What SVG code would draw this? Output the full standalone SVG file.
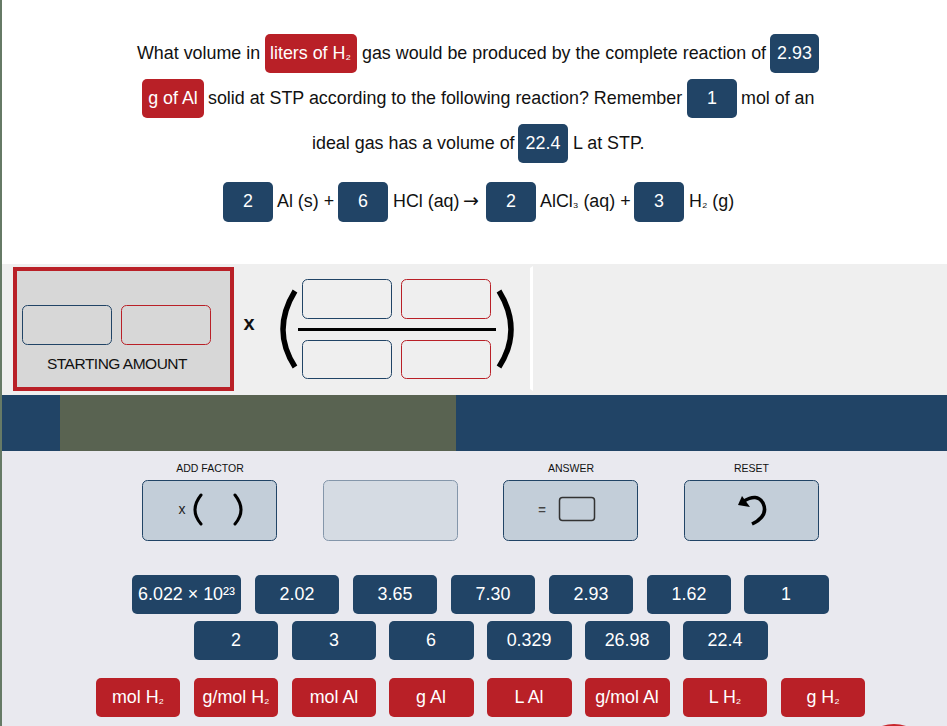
<svg xmlns="http://www.w3.org/2000/svg" width="947" height="726" viewBox="0 0 947 726">
<style>
text{font-family:"Liberation Sans",Arial,sans-serif;font-size:17.87px;fill:#111;white-space:pre}
.c{text-anchor:middle}
.w{fill:#fff}
.b{fill:#214466}
.r{fill:#b92027}
.sb{fill:none;stroke:#214466;stroke-width:1}
.sr{fill:none;stroke:#b92027;stroke-width:1}
.tool{fill:#c3ced9;stroke:#214466;stroke-width:1}
.lab{font-size:10.5px}
.par{fill:none;stroke:#000}
.s{font-size:14px}
</style>
<rect width="947" height="726" fill="#fff"/>
<rect x="0" y="264" width="947" height="131" fill="#efefef"/>
<rect x="0" y="395" width="947" height="56" fill="#214466"/>
<rect x="60" y="395" width="396" height="56" fill="#596351"/>
<rect x="0" y="451" width="947" height="275" fill="#e9e9ef"/>
<rect x="0" y="0" width="2" height="726" fill="#667a66"/>
<path d="M530 268l3-2v125l-3-2z" fill="#fff"/>

<g id="question">
<text x="137" y="59">What volume in</text>
<rect class="r" x="265" y="34" width="92" height="39" rx="5"/>
<text class="w" x="270" y="59">liters of H<tspan class="s">₂</tspan></text>
<text x="362" y="59">gas would be produced by the complete reaction of</text>
<rect class="b" x="770" y="34" width="49" height="39" rx="5"/>
<text class="w c" x="794.500" y="59">2.93</text>
<rect class="r" x="142" y="79" width="62" height="39" rx="5"/>
<text class="w c" x="173" y="104">g of Al</text>
<text x="208" y="104">solid at STP according to the following reaction? Remember</text>
<rect class="b" x="687" y="79" width="50" height="39" rx="5"/>
<text class="w c" x="712" y="104">1</text>
<text x="741" y="104">mol of an</text>
<text x="312" y="149">ideal gas has a volume of</text>
<rect class="b" x="518" y="124" width="50" height="39" rx="5"/>
<text class="w c" x="543" y="149">22.4</text>
<text x="573" y="149">L at STP.</text>
</g>

<g id="equation">
<rect class="b" x="223" y="182" width="50" height="40" rx="5"/>
<text class="w c" x="248" y="207">2</text>
<text x="277" y="207">Al (s) +</text>
<rect class="b" x="338" y="182" width="50" height="40" rx="5"/>
<text class="w c" x="363" y="207">6</text>
<text x="393" y="207">HCl (aq) <tspan x="463" style="font-size:19px;font-family:'DejaVu Sans',sans-serif">→</tspan></text>
<rect class="b" x="486" y="182" width="50" height="40" rx="5"/>
<text class="w c" x="511" y="207">2</text>
<text x="540" y="207">AlCl<tspan class="s">₃</tspan> (aq) +</text>
<rect class="b" x="634" y="182" width="50" height="40" rx="5"/>
<text class="w c" x="659" y="207">3</text>
<text x="689" y="207">H<tspan class="s">₂</tspan> (g)</text>
</g>

<g id="starting-amount">
<rect x="15" y="269" width="217" height="120" fill="#d7d7d7" stroke="#b92027" stroke-width="4"/>
<rect class="sb" x="22.500" y="305.500" width="89" height="39" rx="5"/>
<rect class="sr" x="121.500" y="305.500" width="89" height="39" rx="5"/>
<text class="c" x="117" y="369" style="font-size:15.500px;letter-spacing:-.5px">STARTING AMOUNT</text>
</g>

<g id="factor">
<text class="c" x="249" y="330" style="font-size:20px;font-weight:bold">x</text>
<path class="par" stroke-width="5.500" d="M295 291Q271 330 295 367"/>
<path class="par" stroke-width="5.500" d="M499 291Q523 330 499 367"/>
<rect x="298" y="328" width="198" height="3" fill="#000"/>
<rect class="sb" x="302.500" y="279.500" width="89" height="39" rx="5"/>
<rect class="sr" x="401.500" y="279.500" width="89" height="39" rx="5"/>
<rect class="sb" x="302.500" y="340.500" width="89" height="38" rx="5"/>
<rect class="sr" x="401.500" y="340.500" width="89" height="38" rx="5"/>
</g>

<g id="add-factor">
<text class="c lab" x="210" y="472">ADD FACTOR</text>
<rect class="tool" x="142.500" y="480.500" width="134" height="60" rx="5"/>
<text class="c" x="182" y="514" style="font-size:14px;fill:#222">x</text>
<path class="par" stroke-width="3" stroke-linecap="round" d="M201 495Q189 510 201 524"/>
<path class="par" stroke-width="3" stroke-linecap="round" d="M235 495Q247 510 235 524"/>
</g>
<g id="empty-tool">
<rect x="323.500" y="480.500" width="134" height="60" rx="5" fill="#d5dbe3" stroke="#8496aa"/>
</g>
<g id="answer">
<text class="c lab" x="571" y="472">ANSWER</text>
<rect class="tool" x="503.500" y="480.500" width="134" height="60" rx="5"/>
<text class="c" x="542" y="514" style="font-size:13px;fill:#444;font-weight:bold">=</text>
<rect x="559.500" y="497.500" width="35" height="23" rx="3" fill="none" stroke="#333" stroke-width="1.500"/>
</g>
<g id="reset">
<text class="c lab" x="751.500" y="472">RESET</text>
<rect class="tool" x="684.500" y="480.500" width="134" height="60" rx="5"/>
<path d="M744 501Q757 493 763 503Q769 516 752 524" fill="none" stroke="#000" stroke-width="3.500"/>
<path d="M738 505L742 496L750 507Z" fill="#000"/>
</g>

<g id="numbers">
<rect class="b" x="132" y="575" width="109" height="39" rx="5"/><text class="w c" x="186.500" y="600">6.022 × 10²³</text>
<rect class="b" x="255" y="575" width="84" height="39" rx="5"/><text class="w c" x="297" y="600">2.02</text>
<rect class="b" x="353" y="575" width="84" height="39" rx="5"/><text class="w c" x="395" y="600">3.65</text>
<rect class="b" x="451" y="575" width="84" height="39" rx="5"/><text class="w c" x="493" y="600">7.30</text>
<rect class="b" x="549" y="575" width="84" height="39" rx="5"/><text class="w c" x="591" y="600">2.93</text>
<rect class="b" x="647" y="575" width="84" height="39" rx="5"/><text class="w c" x="689" y="600">1.62</text>
<rect class="b" x="744" y="575" width="85" height="39" rx="5"/><text class="w c" x="786" y="600">1</text>
<rect class="b" x="194" y="621" width="84" height="39" rx="5"/><text class="w c" x="236" y="646">2</text>
<rect class="b" x="292" y="621" width="84" height="39" rx="5"/><text class="w c" x="334" y="646">3</text>
<rect class="b" x="389" y="621" width="85" height="39" rx="5"/><text class="w c" x="431" y="646">6</text>
<rect class="b" x="487" y="621" width="85" height="39" rx="5"/><text class="w c" x="529" y="646">0.329</text>
<rect class="b" x="585" y="621" width="85" height="39" rx="5"/><text class="w c" x="627" y="646">26.98</text>
<rect class="b" x="683" y="621" width="85" height="39" rx="5"/><text class="w c" x="725" y="646">22.4</text>
</g>
<g id="units">
<rect class="r" x="96" y="678" width="84" height="39" rx="5"/><text class="w c" x="138" y="703">mol H<tspan class="s">₂</tspan></text>
<rect class="r" x="194" y="678" width="84" height="39" rx="5"/><text class="w c" x="236" y="703">g/mol H<tspan class="s">₂</tspan></text>
<rect class="r" x="292" y="678" width="84" height="39" rx="5"/><text class="w c" x="334" y="703">mol Al</text>
<rect class="r" x="389" y="678" width="85" height="39" rx="5"/><text class="w c" x="431" y="703">g Al</text>
<rect class="r" x="487" y="678" width="85" height="39" rx="5"/><text class="w c" x="529" y="703">L Al</text>
<rect class="r" x="585" y="678" width="85" height="39" rx="5"/><text class="w c" x="627" y="703">g/mol Al</text>
<rect class="r" x="683" y="678" width="84" height="39" rx="5"/><text class="w c" x="725" y="703">L H<tspan class="s">₂</tspan></text>
<rect class="r" x="781" y="678" width="84" height="39" rx="5"/><text class="w c" x="823" y="703">g H<tspan class="s">₂</tspan></text>
</g>
<path d="M882 726Q894 722 906 726Z" fill="#c8262c"/>
</svg>
